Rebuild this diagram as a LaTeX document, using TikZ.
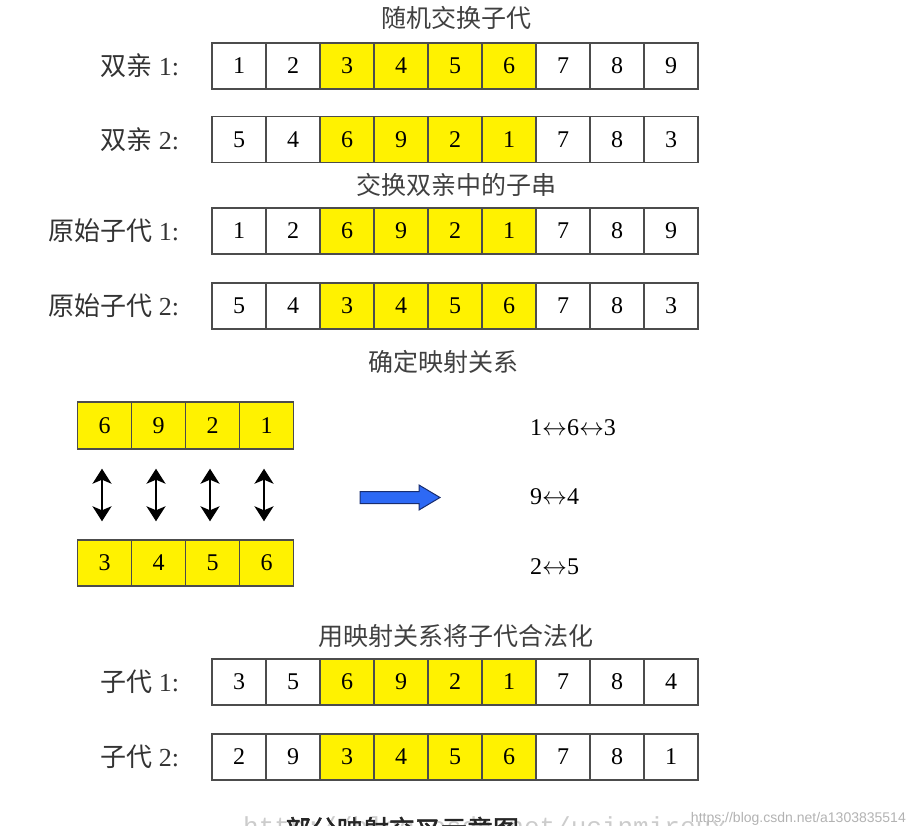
\documentclass[tikz,border=0pt]{standalone}
\usepackage{fontspec}
\setmainfont{Liberation Serif}
\newfontfamily\cjk{Noto Sans CJK SC}
\newfontfamily\cjkb[FakeBold=2]{Noto Sans CJK SC}
\newfontfamily\wmmono{Liberation Mono}
\newfontfamily\wmsans{Liberation Sans}
\usetikzlibrary{positioning,arrows.meta}
\definecolor{blockblue}{RGB}{45,105,245}
\definecolor{blockedge}{RGB}{25,45,110}

\begin{document}
\begin{tikzpicture}[x=1pt,y=-1pt,
  cell/.style={draw=black!70,line width=1.4pt,minimum width=54pt,minimum height=46pt,inner sep=0pt,font=\fontsize{24}{24}\selectfont},
  hot/.style={cell,fill=yellow},
  pick/.code={\ifnum#1>2 \ifnum#1<7 \pgfkeysalso{fill=yellow}\fi\fi},
  title/.style={font=\cjk\fontsize{25}{28}\selectfont,text=black!75,inner sep=0pt},
  lab/.style={font=\fontsize{26}{28}\selectfont,text=black!80,inner sep=0pt},
  map/.style={font=\fontsize{24}{24}\selectfont,anchor=west,inner sep=0pt},
  dbl/.style={{Stealth[length=15pt,width=19pt,inset=4pt]}-{Stealth[length=15pt,width=19pt,inset=4pt]},line width=2pt,shorten <=19pt,shorten >=18pt}]

  \useasboundingbox (0,0) rectangle (915,826);

  % titles
  \node[title] (t1) at (456,18) {随机交换子代};
  \node[title] (t2) at (456,185) {交换双亲中的子串};
  \node[title] (t3) at (443,362) {确定映射关系};
  \node[title] (t4) at (456,636) {用映射关系将子代合法化};

  % parents
  \foreach \v [count=\i] in {1,2,3,4,5,6,7,8,9}
    \node[cell,pick=\i] (p1-\i) at (185+54*\i,66) {\v};
  \foreach \v [count=\i] in {5,4,6,9,2,1,7,8,3}
    \node[cell,pick=\i] (p2-\i) at (185+54*\i,139.5) {\v};
  % raw children
  \foreach \v [count=\i] in {1,2,6,9,2,1,7,8,9}
    \node[cell,pick=\i] (o1-\i) at (185+54*\i,231) {\v};
  \foreach \v [count=\i] in {5,4,3,4,5,6,7,8,3}
    \node[cell,pick=\i] (o2-\i) at (185+54*\i,306) {\v};
  % legal children
  \foreach \v [count=\i] in {3,5,6,9,2,1,7,8,4}
    \node[cell,pick=\i] (c1-\i) at (185+54*\i,682) {\v};
  \foreach \v [count=\i] in {2,9,3,4,5,6,7,8,1}
    \node[cell,pick=\i] (c2-\i) at (185+54*\i,757) {\v};

  \node[lab,left=32pt of p1-1] (lp1) {{\cjk 双亲} 1:};
  \node[lab,left=32pt of p2-1] (lp2) {{\cjk 双亲} 2:};
  \node[lab,left=32pt of o1-1] (lo1) {{\cjk 原始子代} 1:};
  \node[lab,left=32pt of o2-1] (lo2) {{\cjk 原始子代} 2:};
  \node[lab,left=32pt of c1-1] (lc1) {{\cjk 子代} 1:};
  \node[lab,left=32pt of c2-1] (lc2) {{\cjk 子代} 2:};

  % mapping
  \foreach \v [count=\i] in {6,9,2,1}
    \node[hot,minimum height=47pt] (mt-\i) at (50.5+54*\i,425.5) {\v};
  \foreach \v [count=\i] in {3,4,5,6}
    \node[hot] (mb-\i) at (50.5+54*\i,563) {\v};
  \foreach \i in {1,...,4}
    \draw[dbl] ([xshift=-2.5pt]mt-\i.south) -- ([xshift=-2.5pt]mb-\i.north);

  \filldraw[fill=blockblue,draw=blockedge,line width=1pt]
    (360,491.5) -- (419,491.5) -- (419,485) -- (440,497.5) -- (419,510) -- (419,503.5) -- (360,503.5) -- cycle;

  \node[map] (r1) at (530,428) {1$\leftrightarrow$6$\leftrightarrow$3};
  \node[map] (r2) at (530,497) {9$\leftrightarrow$4};
  \node[map] (r3) at (530,567) {2$\leftrightarrow$5};

  % caption and marks
  \node[font=\wmmono\fontsize{26}{26}\selectfont,text=black!20,anchor=base west,inner sep=0pt] (wm1) at (243,835) {http://blog.csdn.net/ucinmireux};
  \node[font=\cjkb\fontsize{26}{28}\selectfont,text=black!85] (cap) at (402,829) {部分映射交叉示意图};
  \node[font=\wmsans\fontsize{14}{14}\selectfont,text=black!30,anchor=base east,inner sep=0pt] (wm2) at (906,822) {https://blog.csdn.net/a1303835514};

\end{tikzpicture}
\end{document}
